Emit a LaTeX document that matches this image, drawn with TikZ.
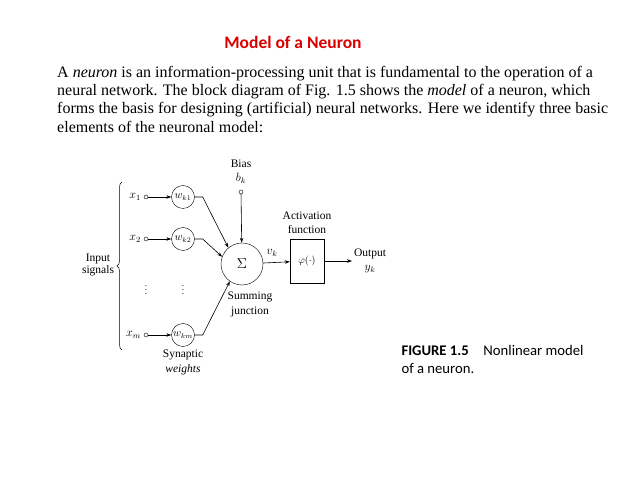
\documentclass[tikz,border=0pt]{standalone}
\usepackage{fontspec}
\setmainfont{Liberation Serif}
\newfontfamily\carlitofont{Carlito}
\usetikzlibrary{arrows.meta,decorations.pathreplacing}
\begin{document}
\begin{tikzpicture}[x=1pt,y=-1pt,
  lbl/.style={font=\fontsize{11.5}{12}\selectfont,inner sep=0pt},
  para/.style={anchor=west,font=\fontsize{16}{18}\selectfont,inner sep=0pt},
  wt/.style={draw,circle,minimum size=23pt,inner sep=0pt,font=\fontsize{10.5}{11}\selectfont},
  term/.style={draw,circle,minimum size=4pt,inner sep=0pt},
  arr/.style={-{Stealth[length=5pt,width=3.5pt]},line width=0.6pt}]
\useasboundingbox (0,0) rectangle (638,478);
\node[font=\carlitofont\bfseries\fontsize{17.5}{19}\selectfont,text=red!85!black] (title) at (293,42) {Model of a Neuron};
\node[para] (p1) at (57,74) {A \textit{neuron} is an information-processing unit that is fundamental to the operation of a};
\node[para] (p2) at (57,92) {neural network. The block diagram of Fig. 1.5 shows the \textit{model} of a neuron, which};
\node[para] (p3) at (57,110) {forms the basis for designing (artificial) neural networks. Here we identify three basic};
\node[para] (p4) at (57,127) {elements of the neuronal model:};
% inputs
\node[lbl,anchor=east] (lx1) at (141,197) {$x_1$};
\node[lbl,anchor=east] (lx2) at (141,239) {$x_2$};
\node[lbl,anchor=east] (lxm) at (141,335) {$x_m$};
\node[term] (x1) at (146,197) {};
\node[term] (x2) at (146,239) {};
\node[term] (xm) at (146,335) {};
\node[wt] (w1) at (183,197) {$w_{k1}$};
\node[wt] (w2) at (183,239) {$w_{k2}$};
\node[wt] (wm) at (183,335) {$w_{km}$};
\node[lbl,font=\fontsize{9}{9}\selectfont] (d1) at (146,287) {$\vdots$};
\node[lbl,font=\fontsize{9}{9}\selectfont] (d2) at (183,287) {$\vdots$};
\node[draw,circle,minimum size=42pt,inner sep=0pt,font=\Large] (s) at (242,264) {$\Sigma$};
\node[lbl] (bias) at (241,164) {Bias};
\node[lbl] (bk) at (241,178) {$b_k$};
\node[term] (b) at (241,192) {};
\node[draw,minimum width=34pt,minimum height=44pt,inner sep=0pt,font=\fontsize{10}{11}\selectfont] (phi) at (307,261) {$\varphi(\cdot)$};
\node[lbl] (act1) at (307,216) {Activation};
\node[lbl] (act2) at (307,230) {function};
\node[lbl] (vk) at (272,253) {$v_k$};
\node[lbl] (out1) at (370,254) {Output};
\node[lbl] (yk) at (370,269) {$y_k$};
\coordinate (oend) at (352,261);
\node[lbl] (sj1) at (250,297) {Summing};
\node[lbl] (sj2) at (250,312) {junction};
\node[lbl] (sw1) at (183,355) {Synaptic};
\node[lbl] (sw2) at (183,370) {\textit{weights}};
\node[lbl,align=center] (inp) at (98,265) {Input\\signals};
\coordinate (br1) at (122,182);
\coordinate (br2) at (122,350);
\draw[decorate,decoration={brace,amplitude=5pt},line width=0.5pt] (br2) -- (br1);
\draw[arr] (x1) -- (w1);
\draw[arr] (x2) -- (w2);
\draw[arr] (xm) -- (wm);
\draw[arr] (w1.east) -- ++(8,0) -- (s.130);
\draw[arr] (w2.east) -- ++(8,0) -- (s.160);
\draw[arr] (wm.east) -- ++(8,0) -- (s.235);
\draw[arr] (b) -- (s);
\draw[arr] (s) -- (phi);
\draw[arr] (phi) -- (oend);
\node[anchor=west,font=\carlitofont\fontsize{14.7}{18}\selectfont,align=left] (cap) at (398,359) {\textbf{FIGURE 1.5}\quad Nonlinear model\\of a neuron.};
\end{tikzpicture}
\end{document}
